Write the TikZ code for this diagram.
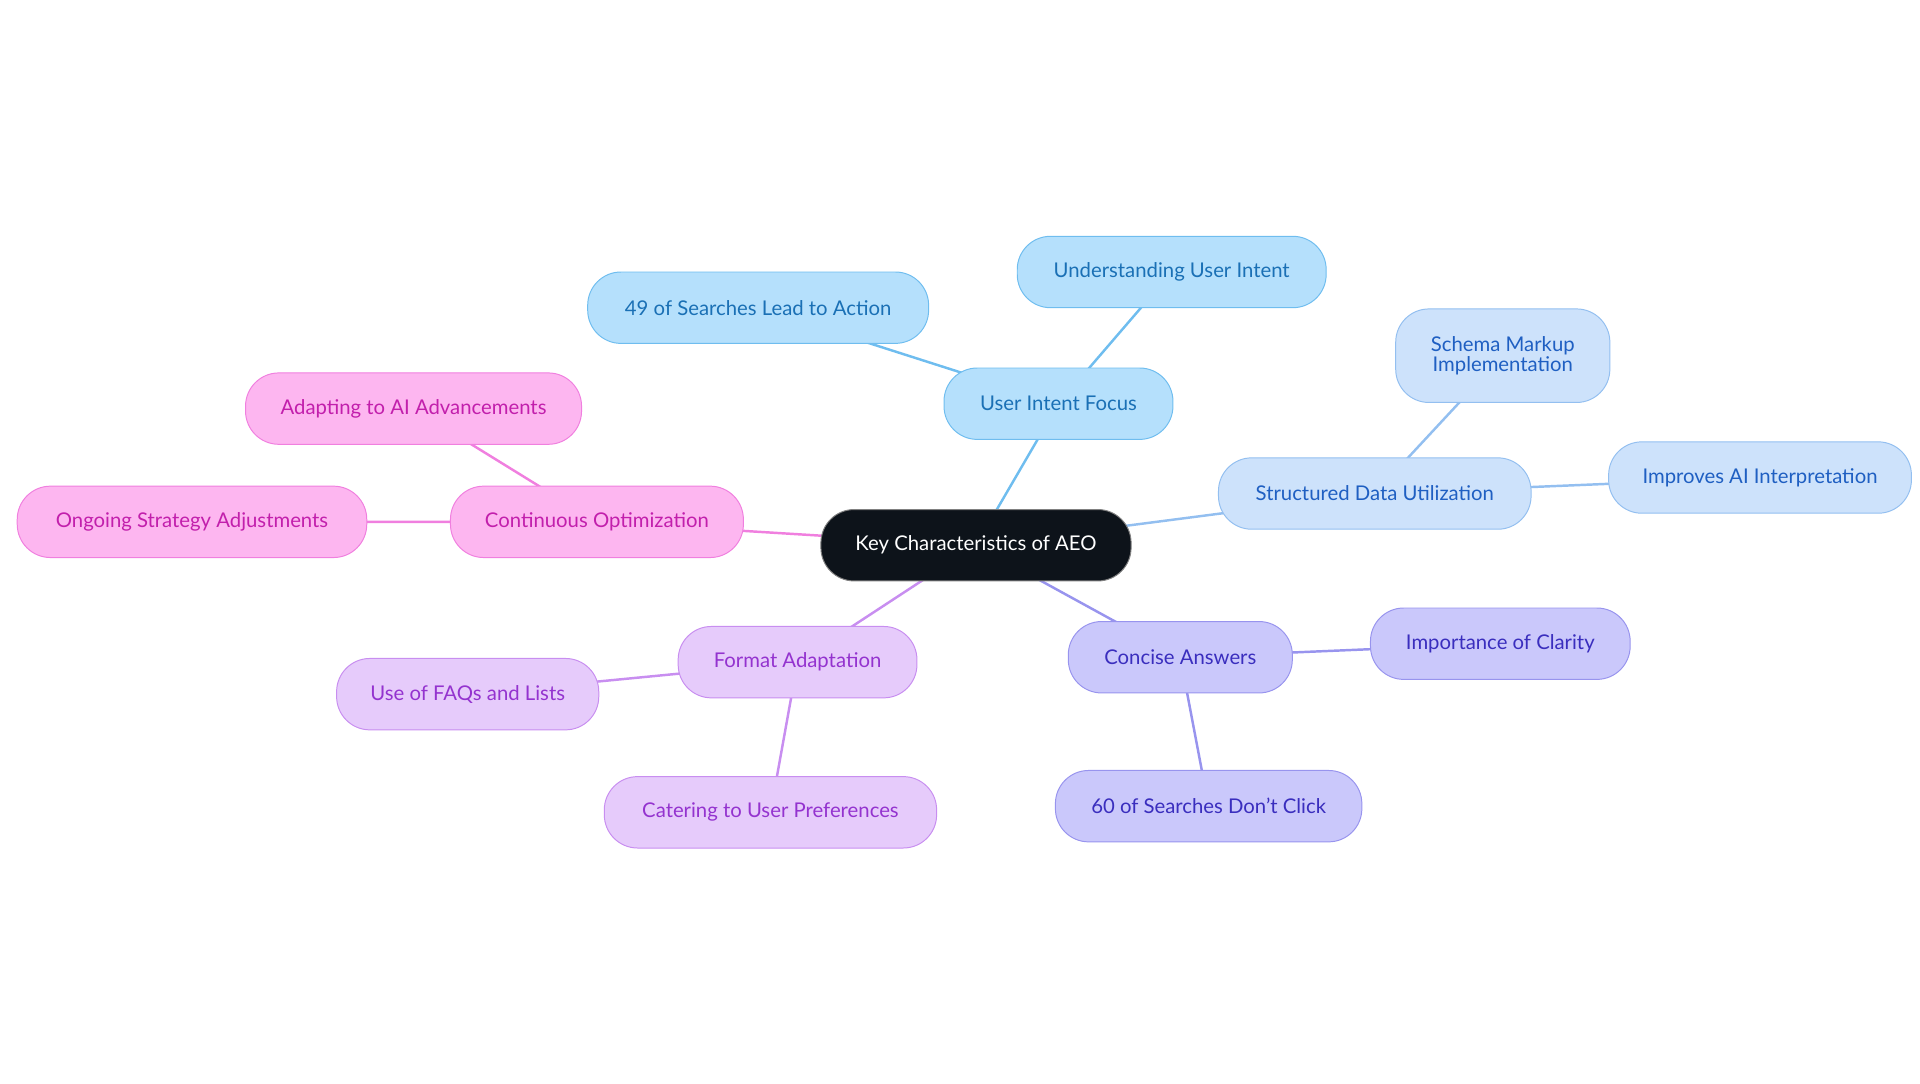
\documentclass[tikz,border=0pt]{standalone}
\usepackage{fontspec}
\setmainfont{Lato}
\usetikzlibrary{backgrounds}
\definecolor{cdark}{HTML}{0D131A}
\definecolor{bfill}{HTML}{B5E0FC}\definecolor{bdraw}{HTML}{6FBDEF}\definecolor{btext}{HTML}{1A70B5}
\definecolor{lfill}{HTML}{CDE2FB}\definecolor{ldraw}{HTML}{93BFF0}\definecolor{ltext}{HTML}{1F5FC2}
\definecolor{pfill}{HTML}{CAC8FB}\definecolor{pdraw}{HTML}{9894EE}\definecolor{ptext}{HTML}{3A2EBE}
\definecolor{vfill}{HTML}{E6CBFB}\definecolor{vdraw}{HTML}{C88EF0}\definecolor{vtext}{HTML}{9433CF}
\definecolor{mfill}{HTML}{FDB6F0}\definecolor{mdraw}{HTML}{F07FDF}\definecolor{mtext}{HTML}{C21FAC}
\tikzset{
 box/.style={rounded corners=27pt,minimum height=58pt,font=\fontsize{16.5}{17}\selectfont,align=center,line width=0.8pt,inner sep=0pt},
 bb/.style={box,fill=bfill,draw=bdraw,text=btext},
 lb/.style={box,fill=lfill,draw=ldraw,text=ltext},
 pb/.style={box,fill=pfill,draw=pdraw,text=ptext},
 vb/.style={box,fill=vfill,draw=vdraw,text=vtext},
 mb/.style={box,fill=mfill,draw=mdraw,text=mtext},
 edge/.style={line width=2pt}
}
\begin{document}
\begin{tikzpicture}[x=1pt,y=-1pt]
\useasboundingbox (0,0) rectangle (1560,880);
\node[box,fill=cdark,draw=gray,text=white,minimum width=252pt] (c) at (793,443) {Key Characteristics of AEO};
\node[bb,minimum width=186pt] (u) at (860,328) {User Intent Focus};
\node[bb,minimum width=251pt] (u1) at (952,221) {Understanding User Intent};
\node[bb,minimum width=277pt] (u2) at (616,250) {49 of Searches Lead to Action};
\node[lb,minimum width=254pt] (s) at (1117,401) {Structured Data Utilization};
\node[lb,minimum width=174pt,minimum height=76pt,font=\fontsize{16.5}{16}\selectfont] (s1) at (1221,289) {Schema Markup\\Implementation};
\node[lb,minimum width=246pt] (s2) at (1430,388) {Improves AI Interpretation};
\node[pb,minimum width=182pt] (a) at (959,534) {Concise Answers};
\node[pb,minimum width=211pt] (a1) at (1219,523) {Importance of Clarity};
\node[pb,minimum width=249pt] (a2) at (982,655) {60 of Searches Don't Click};
\node[vb,minimum width=194pt] (f) at (648,538) {Format Adaptation};
\node[vb,minimum width=213pt] (f1) at (380,564) {Use of FAQs and Lists};
\node[vb,minimum width=270pt] (f2) at (626,660) {Catering to User Preferences};
\node[mb,minimum width=238pt] (o) at (485,424) {Continuous Optimization};
\node[mb,minimum width=273pt] (o1) at (336,332) {Adapting to AI Advancements};
\node[mb,minimum width=284pt] (o2) at (156,424) {Ongoing Strategy Adjustments};
\begin{scope}[on background layer]
\draw[edge,bdraw] (c.center)--(u.center) (u.center)--(u1.center) (u.center)--(u2.center);
\draw[edge,ldraw] (c.center)--(s.center) (s.center)--(s1.center) (s.center)--(s2.center);
\draw[edge,pdraw] (c.center)--(a.center) (a.center)--(a1.center) (a.center)--(a2.center);
\draw[edge,vdraw] (c.center)--(f.center) (f.center)--(f1.center) (f.center)--(f2.center);
\draw[edge,mdraw] (c.center)--(o.center) (o.center)--(o1.center) (o.center)--(o2.center);
\end{scope}
\end{tikzpicture}
\end{document}
